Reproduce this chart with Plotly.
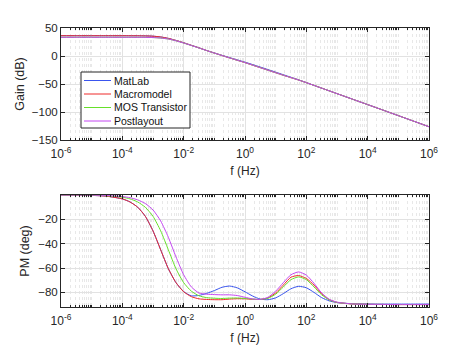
import plotly.graph_objects as go

# frequency grid as decade exponents (f = 10**exp Hz)
freq_exp = [-6, -5.5, -5, -4.5, -4, -3.75, -3.5, -3.25, -3, -2.75, -2.5, -2.25, -2, -1.75,
            -1.5, -1.25, -1, -0.75, -0.5, -0.25, 0, 0.25, 0.5, 0.75, 1, 1.25, 1.5, 1.75,
            2, 2.25, 2.5, 2.75, 3, 3.5, 4, 4.5, 5, 5.5, 6]

series_names = ["MatLab", "Macromodel", "MOS Transistor", "Postlayout"]

gain_matlab = [36.2, 36.2, 36.2, 36.2, 36.2, 36.15, 36.1, 35.9, 35.4, 34.0, 31.5, 27.8, 23.6, 19.1,
               14.6, 9.8, 5.4, 1.2, -2.9, -6.9, -11.0, -15.3, -19.7, -24.2, -28.8, -33.4, -38.0, -42.6,
               -47.4, -52.5, -57.4, -62.3, -67.2, -77.0, -86.8, -96.6, -106.5, -116.4, -126.3]
gain_macro = [36.2, 36.2, 36.2, 36.2, 36.2, 36.15, 36.1, 35.9, 35.4, 34.0, 31.5, 27.8, 23.6, 19.1,
              14.6, 9.8, 5.3, 0.9, -3.4, -7.6, -11.8, -16.3, -20.8, -25.3, -29.8, -34.3, -38.6, -42.9,
              -47.6, -52.5, -57.4, -62.3, -67.2, -77.0, -86.8, -96.6, -106.5, -116.4, -126.3]
gain_mos = [33.4, 33.4, 33.4, 33.4, 33.4, 33.38, 33.35, 33.25, 32.95, 32.1, 30.3, 27.2, 23.2, 18.8,
            14.3, 9.7, 5.3, 0.9, -3.4, -7.6, -11.8, -16.3, -20.8, -25.3, -29.8, -34.3, -38.6, -42.9,
            -47.6, -52.5, -57.4, -62.3, -67.2, -77.0, -86.8, -96.6, -106.5, -116.4, -126.3]
gain_post = [33.4, 33.4, 33.4, 33.4, 33.4, 33.38, 33.35, 33.25, 32.95, 32.1, 30.3, 27.2, 23.2, 18.8,
             14.3, 9.7, 5.3, 0.9, -3.4, -7.6, -11.8, -16.3, -20.8, -25.3, -29.8, -34.3, -38.6, -42.9,
             -47.6, -52.5, -57.4, -62.3, -67.2, -77.0, -86.8, -96.6, -106.5, -116.4, -126.3]

pm_matlab = [0, -0.1, -0.3, -1.0, -3.2, -5.7, -10.0, -17.5, -29.5, -45.0, -60.5, -72.0, -79.3, -82.8,
             -82.5, -80.8, -78.5, -75.8, -74.8, -76.3, -79.5, -83.0, -85.5, -86.0, -84.5, -81.0, -77.0, -75.0,
             -76.2, -80.0, -84.3, -87.0, -88.4, -89.3, -89.5, -89.6, -89.6, -89.6, -89.6]
pm_macro = [0, -0.1, -0.3, -1.0, -3.2, -5.7, -10.0, -17.5, -29.5, -45.0, -60.5, -72.0, -79.5, -83.5,
            -85.3, -85.8, -86.0, -86.0, -85.5, -85.2, -85.3, -85.7, -85.8, -84.5, -80.5, -74.0, -67.5, -66.2,
            -68.5, -74.0, -81.0, -86.0, -88.2, -89.5, -89.8, -89.9, -90.0, -90.0, -90.0]
pm_mos = [0, -0.06, -0.2, -0.6, -1.8, -3.2, -5.7, -10.1, -17.5, -29.4, -45.0, -60.6, -72.0, -79.0,
          -82.8, -84.3, -84.8, -85.0, -84.7, -84.6, -85.0, -85.5, -85.8, -84.8, -81.5, -75.5, -69.5, -67.3,
          -69.5, -75.5, -82.0, -86.2, -88.2, -89.5, -89.8, -89.9, -90.0, -90.0, -90.0]
pm_post = [0, -0.04, -0.13, -0.4, -1.25, -2.2, -4.0, -7.0, -12.3, -21.3, -34.7, -50.9, -65.5, -75.5,
           -80.5, -81.5, -81.8, -82.0, -82.0, -82.6, -84.0, -85.4, -85.8, -84.0, -79.0, -72.0, -65.5, -63.2,
           -65.8, -72.5, -80.5, -85.7, -88.0, -89.5, -89.8, -89.9, -90.0, -90.0, -90.0]

x_tick_exp = [-6, -4, -2, 0, 2, 4, 6]
gain_ticks = [-150, -100, -50, 0, 50]
pm_ticks = [-80, -60, -40, -20]

colors = ["#3a55ee", "#ee2a2a", "#66e02a", "#c447f2"]

freq = [10 ** e for e in freq_exp]
gains = [gain_matlab, gain_macro, gain_mos, gain_post]
pms = [pm_matlab, pm_macro, pm_mos, pm_post]
x_tickvals = [10 ** e for e in x_tick_exp]
x_ticktext = ["10<sup>%d</sup>" % e for e in x_tick_exp]

FONT = "Liberation Sans, Arial, Helvetica, sans-serif"
AX = "#262626"

# The page body has an 8 px margin, so the figure is drawn 8 px smaller and
# offset; plot-area edges below are given in page pixels.
BODY = 8
W, H = 474 - BODY, 355 - BODY
PLOT_L, PLOT_R, PLOT_T, PLOT_B = 61, 429, 28, 307          # page px
ML, MT = PLOT_L - BODY, PLOT_T - BODY
MR, MB = (BODY + W) - PLOT_R, (BODY + H) - PLOT_B
PW, PH = PLOT_R - PLOT_L, PLOT_B - PLOT_T


def px_x(px):
    return (px - PLOT_L) / PW


def px_y(py):
    return (PLOT_B - py) / PH


fig = go.Figure()
for name, g, c in zip(series_names, gains, colors):
    fig.add_trace(go.Scatter(x=freq, y=g, mode="lines", name=name, xaxis="x", yaxis="y",
                             showlegend=False,
                             line=dict(color=c, width=1, shape="spline", smoothing=0.6)))
for name, p, c in zip(series_names, pms, colors):
    fig.add_trace(go.Scatter(x=freq, y=p, mode="lines", name=name, xaxis="x2", yaxis="y2",
                             showlegend=False,
                             line=dict(color=c, width=1, shape="spline", smoothing=0.6)))

xcommon = dict(type="log", range=[-6, 6], tickmode="array", tickvals=x_tickvals, ticktext=x_ticktext,
               showline=True, linecolor=AX, linewidth=1, mirror="allticks",
               ticks="inside", ticklen=4, tickcolor=AX, ticklabelstandoff=3,
               showgrid=True, gridcolor="#e2e2e2", gridwidth=1,
               minor=dict(dtick="D1", ticks="inside", ticklen=2, tickcolor=AX,
                          showgrid=True, gridcolor="#e8e8e8", griddash="dot"),
               tickfont=dict(size=12, color=AX, family=FONT),
               title=dict(text="f (Hz)", font=dict(size=12, color=AX, family=FONT), standoff=6),
               zeroline=False, automargin=False)

ycommon = dict(showline=True, linecolor=AX, linewidth=1, mirror="ticks",
               ticks="inside", ticklen=4, tickcolor=AX,
               showgrid=True, gridcolor="#e2e2e2", zeroline=False, automargin=False,
               tickfont=dict(size=11.5, color=AX, family=FONT))

# manual legend (box, sample lines, labels) placed like the reference (page px)
leg_x0, leg_x1, leg_y0, leg_y1 = 81, 190, 72, 128
leg_row0, leg_row_step = 80.5, 13.5
leg_line_x0, leg_line_x1, leg_text_x = 84, 111, 112

shapes = [dict(type="rect", xref="paper", yref="paper", layer="above",
               x0=px_x(leg_x0), x1=px_x(leg_x1), y0=px_y(leg_y1), y1=px_y(leg_y0),
               fillcolor="white", line=dict(color=AX, width=1))]
annotations = []
for i, (name, c) in enumerate(zip(series_names, colors)):
    yy = px_y(leg_row0 + i * leg_row_step)
    shapes.append(dict(type="line", xref="paper", yref="paper", layer="above",
                       x0=px_x(leg_line_x0), x1=px_x(leg_line_x1), y0=yy, y1=yy,
                       line=dict(color=c, width=1)))
    annotations.append(dict(xref="paper", yref="paper", x=px_x(leg_text_x), y=yy,
                            xanchor="left", yanchor="middle", showarrow=False, text=name,
                            font=dict(size=10.5, color="#111111", family=FONT)))

fig.update_layout(
    width=W, height=H,
    margin=dict(l=ML, r=MR, t=MT, b=MB),
    paper_bgcolor="white", plot_bgcolor="white",
    font=dict(family=FONT, color=AX),
    showlegend=False,
    xaxis=dict(domain=[0, 1], anchor="y", **xcommon),
    xaxis2=dict(domain=[0, 1], anchor="y2", **xcommon),
    yaxis=dict(domain=[px_y(140), 1], anchor="x", range=[-150, 50], tickmode="array",
               tickvals=gain_ticks,
               title=dict(text="Gain (dB)", font=dict(size=12.5, color=AX, family=FONT), standoff=4),
               **ycommon),
    yaxis2=dict(domain=[0, px_y(195)], anchor="x2", range=[-92, 0], tickmode="array",
                tickvals=pm_ticks,
                title=dict(text="PM (deg)", font=dict(size=12.5, color=AX, family=FONT), standoff=5),
                **ycommon),
    shapes=shapes,
    annotations=annotations,
)

fig.write_html("out.html")
